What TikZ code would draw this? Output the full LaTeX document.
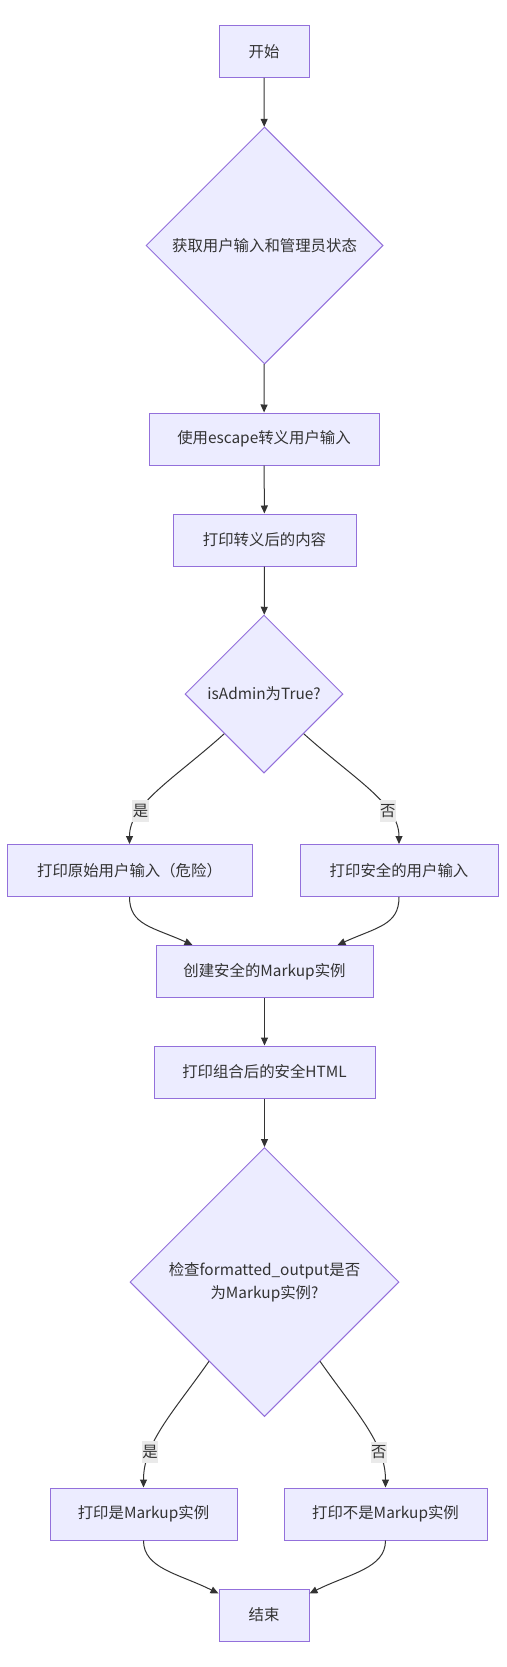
\documentclass[tikz,border=0pt]{standalone}
\usepackage{fontspec}
\setmainfont{Noto Sans CJK SC}
\usepackage{tikz}
\usetikzlibrary{shapes.geometric,arrows.meta,positioning}
\definecolor{flowfill}{HTML}{ECECFF}
\definecolor{flowline}{HTML}{9370DB}
\definecolor{flowtext}{HTML}{333333}
\definecolor{flowlabel}{HTML}{EAEAEA}
\tikzset{
    proc/.style={rectangle, draw=flowline, fill=flowfill, line width=1pt, minimum height=52pt, inner sep=0pt, text=flowtext, font=\fontsize{15.4}{23}\selectfont},
    decide/.style={diamond, aspect=1, draw=flowline, fill=flowfill, line width=1pt, inner sep=0pt, align=center, text=flowtext, font=\fontsize{15.4}{23}\selectfont},
    flow/.style={line width=1pt, draw=flowtext, -{Triangle[length=8pt,width=7pt]}},
    flowlbl/.style={fill=flowlabel, inner xsep=0.5pt, inner ysep=4pt, text=flowtext, font=\fontsize{15.4}{18}\selectfont},
}
\begin{document}
\begin{tikzpicture}[x=1pt, y=1pt]
    \useasboundingbox[fill=white] (0,0) rectangle (506,-1667);
    \node[proc, minimum width=90pt] (start) at (264,-51.5) {开始};
    \node[decide, minimum size=237pt] (getinput) at (264.5,-245.5) {获取用户输入和管理员状态};
    \node[proc, minimum width=230pt] (escape) at (264,-439) {使用escape转义用户输入};
    \node[proc, minimum width=183pt] (printesc) at (264.5,-540) {打印转义后的内容};
    \node[decide, minimum size=158pt] (isadmin) at (264,-694) {isAdmin为True?};
    \node[proc, minimum width=245pt] (rawout) at (129.5,-870.5) {打印原始用户输入（危险）};
    \node[proc, minimum width=198pt] (safeout) at (399,-870.5) {打印安全的用户输入};
    \node[proc, minimum width=217pt] (markup) at (264.5,-971.5) {创建安全的Markup实例};
    \node[proc, minimum width=221pt] (combined) at (264.5,-1072) {打印组合后的安全HTML};
    \node[decide, minimum size=269pt] (check) at (264.5,-1282) {检查formatted\_output是否\\为Markup实例?};
    \node[proc, minimum width=187pt] (ismarkup) at (143.5,-1514) {打印是Markup实例};
    \node[proc, minimum width=203pt] (notmarkup) at (385.5,-1514) {打印不是Markup实例};
    \node[proc, minimum width=90pt] (finish) at (264,-1615) {结束};

    \draw[flow] (start) -- (getinput);
    \draw[flow] (getinput) -- (escape);
    \draw[flow] (escape) -- (printesc);
    \draw[flow] (printesc) -- (isadmin);
    \draw[flow] (isadmin.south west) .. controls +(-50,-45) and +(0,40) .. (rawout.north) node[flowlbl, pos=0.7] {是};
    \draw[flow] (isadmin.south east) .. controls +(50,-45) and +(0,40) .. (safeout.north) node[flowlbl, pos=0.7] {否};
    \draw[flow] (rawout.south) .. controls +(0,-28) and +(-40,18) .. ([xshift=37pt]markup.north west);
    \draw[flow] (safeout.south) .. controls +(0,-28) and +(40,18) .. ([xshift=-36pt]markup.north east);
    \draw[flow] (markup) -- (combined);
    \draw[flow] (combined) -- (check);
    \draw[flow] (check.-125) .. controls +(-35,-50) and +(0,45) .. (ismarkup.north) node[flowlbl, pos=0.72] {是};
    \draw[flow] (check.-55) .. controls +(35,-50) and +(0,45) .. (notmarkup.north) node[flowlbl, pos=0.72] {否};
    \draw[flow] (ismarkup.south) .. controls +(0,-28) and +(-40,20) .. ([yshift=-5pt]finish.north west);
    \draw[flow] (notmarkup.south) .. controls +(0,-28) and +(40,20) .. ([yshift=-5pt]finish.north east);
\end{tikzpicture}
\end{document}
